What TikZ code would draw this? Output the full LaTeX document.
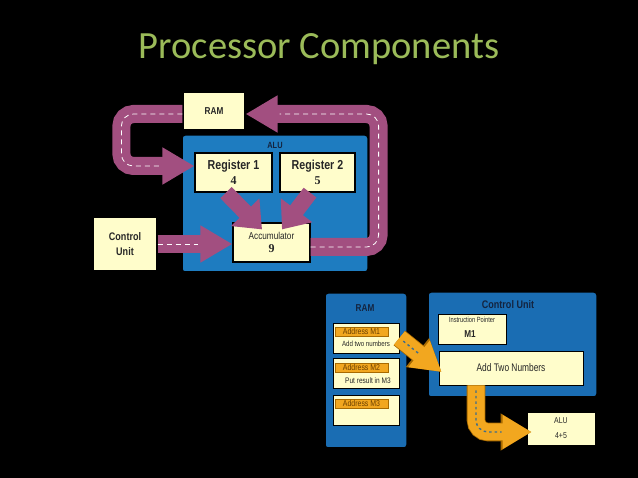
\documentclass[tikz,border=0pt]{standalone}
\usepackage{fontspec}
\usetikzlibrary{arrows.meta,calc}
\newfontfamily\titlefont{Carlito}
\newfontfamily\cnd[FakeStretch=0.82]{Liberation Sans}
\newfontfamily\cndd[FakeStretch=0.76]{Liberation Sans}
\newfontfamily\numf{Liberation Serif}
\definecolor{titlegreen}{HTML}{9BBB59}
\definecolor{cream}{HTML}{FFFDCB}
\definecolor{alublue}{HTML}{1E7CC0}
\definecolor{panelblue}{HTML}{1A6DB3}
\definecolor{purp}{HTML}{A24F80}
\definecolor{orng}{HTML}{F2A71F}
\definecolor{orngdark}{HTML}{A86A00}
\definecolor{bartext}{HTML}{6A3F00}
\definecolor{navy}{HTML}{14243F}
\definecolor{txt}{HTML}{262626}
\definecolor{dashblue}{HTML}{3D6D8C}
\tikzset{
  crbox/.style={draw=black, line width=1.2pt, fill=cream, inner sep=0pt, align=center, text=txt},
  panel/.style={draw=black, line width=1.5pt, fill=#1, rounded corners=3pt, inner sep=0pt},
  pband/.style={draw=purp, line width=18pt, rounded corners=12pt, -{Triangle[length=32pt,width=35pt]}},
  dband/.style={draw=purp, line width=16pt, -{Triangle[length=24pt,width=38pt]}},
  oband/.style={draw=orng, line width=17pt, rounded corners=12pt, -{Triangle[length=29pt,width=32pt]}},
  obandedge/.style={draw=orngdark, line width=18.6pt, rounded corners=12pt, -{Triangle[length=31pt,width=35pt]}},
  wdash/.style={draw=white, line width=0.8pt, dash pattern=on 5pt off 4pt, rounded corners=12pt},
  bdash/.style={draw=dashblue, line width=1.4pt, dash pattern=on 2.5pt off 3pt, rounded corners=12pt},
  lbl/.style={inner sep=0pt, align=center},
  bar/.style={draw=orngdark, line width=0.6pt, fill=orng, inner sep=0pt, minimum width=53pt, minimum height=9pt, text=bartext, font=\cnd\fontsize{8.5}{9}\selectfont}
}
\begin{document}
\begin{tikzpicture}[x=1pt,y=-1pt]
\fill[black] (0,0) rectangle (638,478);
\path[use as bounding box] (0,0) rectangle (638,478);

\node[text=titlegreen, font=\titlefont\fontsize{38.5}{40}\selectfont, inner sep=0pt] (title) at (319,49) {Processor Components};

% ---------- top diagram ----------
\node[panel=alublue, minimum width=186pt, minimum height=137pt] (alu) at (275,203.5) {};
\node[lbl, text=navy, font=\cnd\bfseries\fontsize{9}{9}\selectfont] (alulbl) at (275,145) {ALU};

\node[crbox, minimum width=62pt, minimum height=38pt, font=\cnd\bfseries\fontsize{10}{10}\selectfont] (ram) at (214,111) {RAM};
\node[crbox, minimum width=77pt, minimum height=39pt, font=\cnd\bfseries\fontsize{13}{15}\selectfont] (r1) at (233.5,172.5) {Register 1\\{\numf\bfseries\fontsize{12}{12}\selectfont 4}};
\node[crbox, minimum width=75pt, minimum height=39pt, font=\cnd\bfseries\fontsize{13}{15}\selectfont] (r2) at (317.5,172.5) {Register 2\\{\numf\bfseries\fontsize{12}{12}\selectfont 5}};
\node[crbox, minimum width=77pt, minimum height=39pt, font=\cnd\fontsize{10}{13.5}\selectfont] (acc) at (271.5,242.5) {Accumulator\\{\numf\bfseries\fontsize{12}{12}\selectfont 9}};
\node[crbox, minimum width=64pt, minimum height=54pt, font=\cnd\bfseries\fontsize{11}{15}\selectfont] (cu) at (125,244) {Control\\Unit};

% purple bands
\draw[pband] ($(ram.west)+(0,3)$) -- ++(-61,0) |- ($(r1.west)+(0,-6.5)$);
\draw[wdash, shorten >=34pt] ($(ram.west)+(0,3)$) -- ++(-61,0) |- ($(r1.west)+(0,-6.5)$);

\draw[pband] ($(acc.east)+(0,4.5)$) -- ++(68,0) |- ($(ram.east)+(0,3)$);
\draw[wdash, shorten >=34pt] ($(acc.east)+(0,4.5)$) -- ++(68,0) |- ($(ram.east)+(0,3)$);

\draw[pband] (cu.east) -- (acc.west |- cu.east);
\draw[wdash, shorten >=34pt] (cu.east) -- (acc.west |- cu.east);

\draw[dband] ($(r1.south)+(-7.5,0)$) -- ($(acc.north)+(-9.5,7)$);
\draw[dband] ($(r2.south)+(-7.5,0)$) -- ($(acc.north)+(10.5,7)$);

% ---------- bottom diagram ----------
\node[panel=panelblue, minimum width=82pt, minimum height=155pt] (ramp) at (366,370.5) {};
\node[lbl, text=navy, font=\cnd\bfseries\fontsize{10}{10}\selectfont] (ramlbl) at (365,308) {RAM};

\node[crbox, line width=0.8pt, minimum width=66pt, minimum height=30pt] (m1) at (366,338) {};
\node[bar] (b1) at (361.5,331.5) {Address M1};
\node[lbl, text=txt, font=\cnd\fontsize{7.5}{8}\selectfont] (t1) at (366,344) {Add two numbers};

\node[crbox, line width=0.8pt, minimum width=66pt, minimum height=30pt] (m2) at (366,373) {};
\node[bar] (b2) at (361.5,367.5) {Address M2};
\node[lbl, text=txt, font=\cnd\fontsize{8}{8}\selectfont] (t2) at (368,381) {Put result in M3};

\node[crbox, line width=0.8pt, minimum width=66pt, minimum height=30pt] (m3) at (366,410) {};
\node[bar] (b3) at (361.5,403.5) {Address M3};

\node[panel=panelblue, minimum width=169pt, minimum height=105pt] (cup) at (512.5,344.5) {};
\node[lbl, text=navy, font=\cnd\bfseries\fontsize{11}{11}\selectfont] (culbl) at (508,305) {Control Unit};

\node[crbox, line width=0.8pt, minimum width=68pt, minimum height=30pt] (ip) at (472,329) {};
\node[lbl, text=txt, font=\cndd\fontsize{7.5}{8}\selectfont] (iplbl) at (472,320) {Instruction Pointer};
\node[lbl, text=txt, font=\cnd\bfseries\fontsize{10}{10}\selectfont] (ipval) at (470,334) {M1};

\node[crbox, line width=0.8pt, minimum width=144pt, minimum height=34pt, font=\cndd\fontsize{11}{11}\selectfont] (add) at (511,368) {Add Two Numbers};

\node[crbox, line width=0.8pt, minimum width=68pt, minimum height=33pt, font=\cnd\fontsize{8.5}{15}\selectfont] (alu2) at (561,428.5) {ALU\\4+5};

% orange arrows
\draw[obandedge] (m1.east) -- ($(add.west)+(3,4)$);
\draw[oband] (m1.east) -- ($(add.west)+(3,4)$);
\draw[bdash, shorten >=30pt, shorten <=5pt] (m1.east) -- ($(add.west)+(3,4)$);

\draw[obandedge] ($(add.south)+(-35,0)$) |- ($(alu2.west)+(5,3.5)$);
\draw[oband] ($(add.south)+(-35,0)$) |- ($(alu2.west)+(5,3.5)$);
\draw[bdash, shorten >=30pt, shorten <=5pt] ($(add.south)+(-35,0)$) |- ($(alu2.west)+(5,3.5)$);
\end{tikzpicture}
\end{document}
